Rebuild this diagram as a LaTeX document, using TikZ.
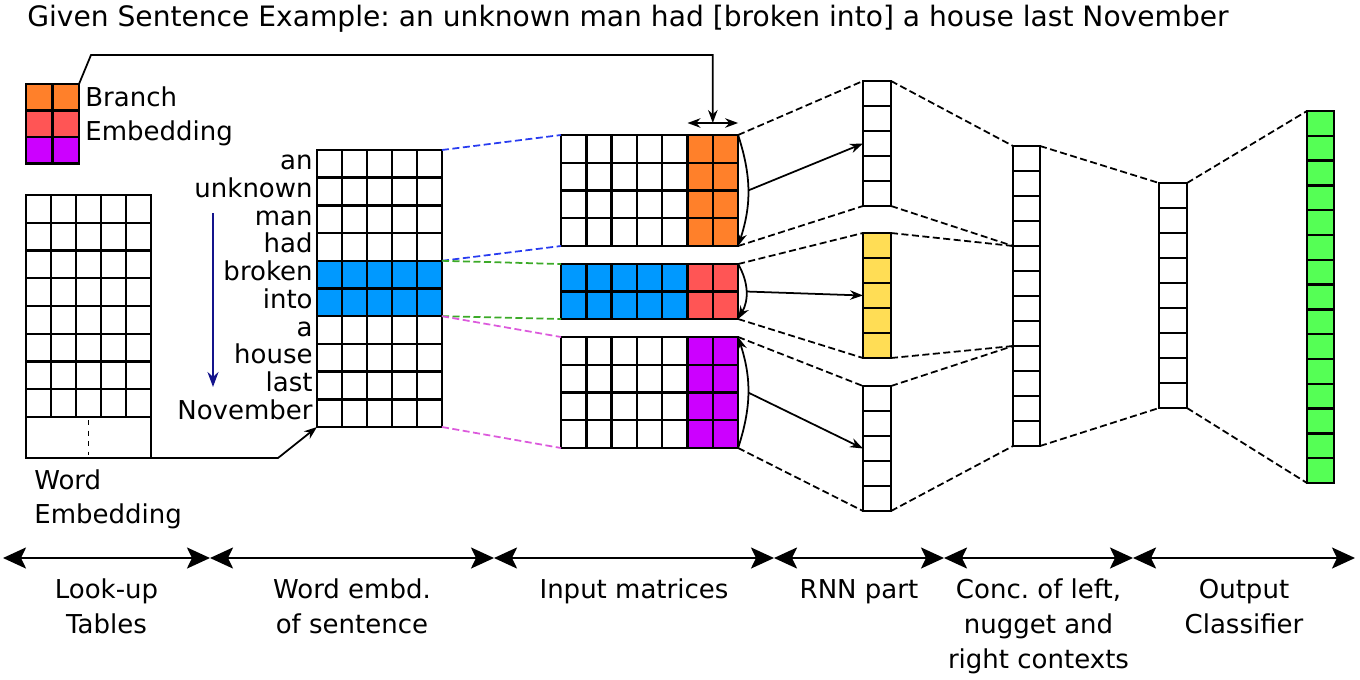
\documentclass[tikz,border=0pt]{standalone}
\usepackage{fontspec}
\setmainfont{DejaVu Sans}
\usepackage{tikz}
\usetikzlibrary{arrows.meta}
\frenchspacing

\definecolor{branchA}{RGB}{255,128,42}
\definecolor{branchB}{RGB}{255,85,85}
\definecolor{branchC}{RGB}{204,0,255}
\definecolor{nugget}{RGB}{0,153,255}
\definecolor{rnnyellow}{RGB}{255,221,85}
\definecolor{outgreen}{RGB}{85,255,85}
\definecolor{linkblue}{RGB}{40,60,240}
\definecolor{linkgreen}{RGB}{60,170,40}
\definecolor{linkpink}{RGB}{220,90,220}
\definecolor{readnavy}{RGB}{20,20,140}

\begin{document}
\begin{tikzpicture}[x=0.2mm, y=-0.2mm, font=\fontsize{14.8pt}{19.8pt}\selectfont,
  cell/.style={draw, line width=1.4pt, inner sep=0pt, outer sep=0pt, anchor=north west},
  link/.style={line width=1pt, dash pattern=on 1.4mm off 0.7mm},
  tip/.style={line width=1pt, -{Stealth[length=2.6mm, width=1.9mm]}},
  span/.style={line width=1.3pt, {Stealth[length=4.6mm, width=4.2mm, inset=1mm]}-{Stealth[length=4.6mm, width=4.2mm, inset=1mm]}},
  word/.style={anchor=base east, inner sep=0pt},
  stage/.style={below=4mm, align=center, inner sep=0pt}]
\useasboundingbox (0,0) rectangle (1360,679);

\node[anchor=base west, inner sep=0pt, font=\fontsize{16pt}{20pt}\selectfont] (title) at (27,26) {Given Sentence Example: an unknown man had [broken into] a house last November};

\foreach \c [count=\j from 0] in {branchA,branchB,branchC}
  \foreach \i in {0,1}
    \node[cell, fill=\c, minimum width=5.3mm, minimum height=5.3mm] (legend-\i-\j) at (26+26.5*\i, 84+26.5*\j) {};
\node[anchor=north west, align=left, inner sep=0pt] (legendname) at (85,86) {Branch\\Embedding};

\foreach \j in {0,...,7}
  \foreach \i in {0,...,4}
    \node[cell, minimum width=5mm, minimum height=5.55mm] (lut-\i-\j) at (26+25*\i, 195+27.75*\j) {};
\node[cell, minimum width=25mm, minimum height=8.2mm] (lutrest) at (lut-0-7.south west) {};
\draw[dashed, line width=1pt] ([yshift=-0.6mm]lutrest.north) -- ([yshift=0.6mm]lutrest.south);
\node[anchor=north west, align=left, inner sep=0pt] (lutname) at (34,469) {Word\\Embedding};

\foreach \c [count=\j from 0] in {white,white,white,white,nugget,nugget,white,white,white,white}
  \foreach \i in {0,...,4}
    \node[cell, fill=\c, minimum width=5mm, minimum height=5.54mm] (sent-\i-\j) at (317+25*\i, 150+27.7*\j) {};
\foreach \w [count=\j from 0] in {an,unknown,man,had,broken,into,a,house,last,November}
  \node[word] (word-\j) at ([xshift=-0.8mm, yshift=-1.2mm]sent-0-\j.west) {\w};
\coordinate (readtop) at (213,213);
\coordinate (readbot) at (213,387);
\draw[readnavy, line width=1.2pt, -{Stealth[length=3mm, width=2.2mm]}] (readtop) -- (readbot);
\draw[tip] (lutrest.south east) -- ++(127,0) -- (sent-0-9.south west);

\foreach \c [count=\i from 0] in {white,white,white,white,white,branchA,branchA}
  \foreach \j in {0,...,3}
    \node[cell, fill=\c, minimum width=5.06mm, minimum height=5.55mm] (inA-\i-\j) at (561+25.3*\i, 135+27.75*\j) {};
\foreach \c [count=\i from 0] in {nugget,nugget,nugget,nugget,nugget,branchB,branchB}
  \foreach \j in {0,1}
    \node[cell, fill=\c, minimum width=5.06mm, minimum height=5.5mm] (inB-\i-\j) at (561+25.3*\i, 264+27.5*\j) {};
\foreach \c [count=\i from 0] in {white,white,white,white,white,branchC,branchC}
  \foreach \j in {0,...,3}
    \node[cell, fill=\c, minimum width=5.06mm, minimum height=5.55mm] (inC-\i-\j) at (561+25.3*\i, 337+27.75*\j) {};

\draw[line width=1pt, {Stealth[length=2.6mm, width=1.9mm]}-{Stealth[length=2.6mm, width=1.9mm]}] ([yshift=2.4mm]inA-5-0.north west) -- coordinate[midway] (bw) ([yshift=2.4mm]inA-6-0.north east);
\draw[tip] (legend-1-0.north east) -- ++(12,-29) -| (bw);

\draw[link, linkblue] (sent-4-0.north east) -- (inA-0-0.north west);
\draw[link, linkblue] (sent-4-4.north east) -- (inA-0-3.south west);
\draw[link, linkgreen] (sent-4-4.north east) -- (inB-0-0.north west);
\draw[link, linkgreen] (sent-4-5.south east) -- (inB-0-1.south west);
\draw[link, linkpink] (sent-4-5.south east) -- (inC-0-0.north west);
\draw[link, linkpink] (sent-4-9.south east) -- (inC-0-3.south west);

\foreach \j in {0,...,4} {
  \node[cell, minimum width=5.6mm, minimum height=5mm] (rnnA-\j) at (863, 81+25*\j) {};
  \node[cell, fill=rnnyellow, minimum width=5.6mm, minimum height=5mm] (rnnB-\j) at (863, 233+25*\j) {};
  \node[cell, minimum width=5.6mm, minimum height=5mm] (rnnC-\j) at (863, 386+25*\j) {};
}
\foreach \j in {0,...,11}
  \node[cell, minimum width=5.4mm, minimum height=5mm] (conc-\j) at (1013, 146+25*\j) {};
\foreach \j in {0,...,8}
  \node[cell, minimum width=5.6mm, minimum height=5mm] (hid-\j) at (1159, 183+25*\j) {};
\foreach \j in {0,...,14}
  \node[cell, fill=outgreen, minimum width=5.4mm, minimum height=4.96mm] (out-\j) at (1307, 111+24.8*\j) {};

\draw[tip] (inA-6-0.north east) to[bend left=18] coordinate[midway] (arcA) (inA-6-3.south east);
\draw[tip] (arcA) -- (rnnA-2.west);
\draw[tip] (inB-6-0.north east) to[bend left=30] coordinate[midway] (arcB) (inB-6-1.south east);
\draw[tip] (arcB) -- (rnnB-2.west);
\draw[tip] (inC-6-3.south east) to[bend right=18] coordinate[midway] (arcC) (inC-6-0.north east);
\draw[tip] (arcC) -- (rnnC-2.west);

\draw[link] (inA-6-0.north east) -- (rnnA-0.north west);
\draw[link] (inA-6-3.south east) -- (rnnA-4.south west);
\draw[link] (inB-6-0.north east) -- (rnnB-0.north west);
\draw[link] (inB-6-1.south east) -- (rnnB-4.south west);
\draw[link] (inC-6-0.north east) -- (rnnC-0.north west);
\draw[link] (inC-6-3.south east) -- (rnnC-4.south west);
\draw[link] (rnnA-0.north east) -- (conc-0.north west);
\draw[link] (rnnA-4.south east) -- (conc-4.north west);
\draw[link] (rnnB-0.north east) -- (conc-4.north west);
\draw[link] (rnnB-4.south east) -- (conc-8.north west);
\draw[link] (rnnC-0.north east) -- (conc-8.north west);
\draw[link] (rnnC-4.south east) -- (conc-11.south west);
\draw[link] (conc-0.north east) -- (hid-0.north west);
\draw[link] (conc-11.south east) -- (hid-8.south west);
\draw[link] (hid-0.north east) -- (out-0.north west);
\draw[link] (hid-8.south east) -- (out-14.south west);

\coordinate (ax0) at (3,558);
\coordinate (ax1) at (210,558);
\coordinate (ax2) at (494,558);
\coordinate (ax3) at (774,558);
\coordinate (ax4) at (944,558);
\coordinate (ax5) at (1133,558);
\coordinate (ax6) at (1355,558);
\draw[span] (ax0) -- node[stage] (stage1) {Look-up\\Tables} (ax1);
\draw[span] (ax1) -- node[stage] (stage2) {Word embd.\\of sentence} (ax2);
\draw[span] (ax2) -- node[stage] (stage3) {Input matrices} (ax3);
\draw[span] (ax3) -- node[stage] (stage4) {RNN part} (ax4);
\draw[span] (ax4) -- node[stage] (stage5) {Conc. of left,\\nugget and\\right contexts} (ax5);
\draw[span] (ax5) -- node[stage] (stage6) {Output\\Classifier} (ax6);
\end{tikzpicture}
\end{document}
